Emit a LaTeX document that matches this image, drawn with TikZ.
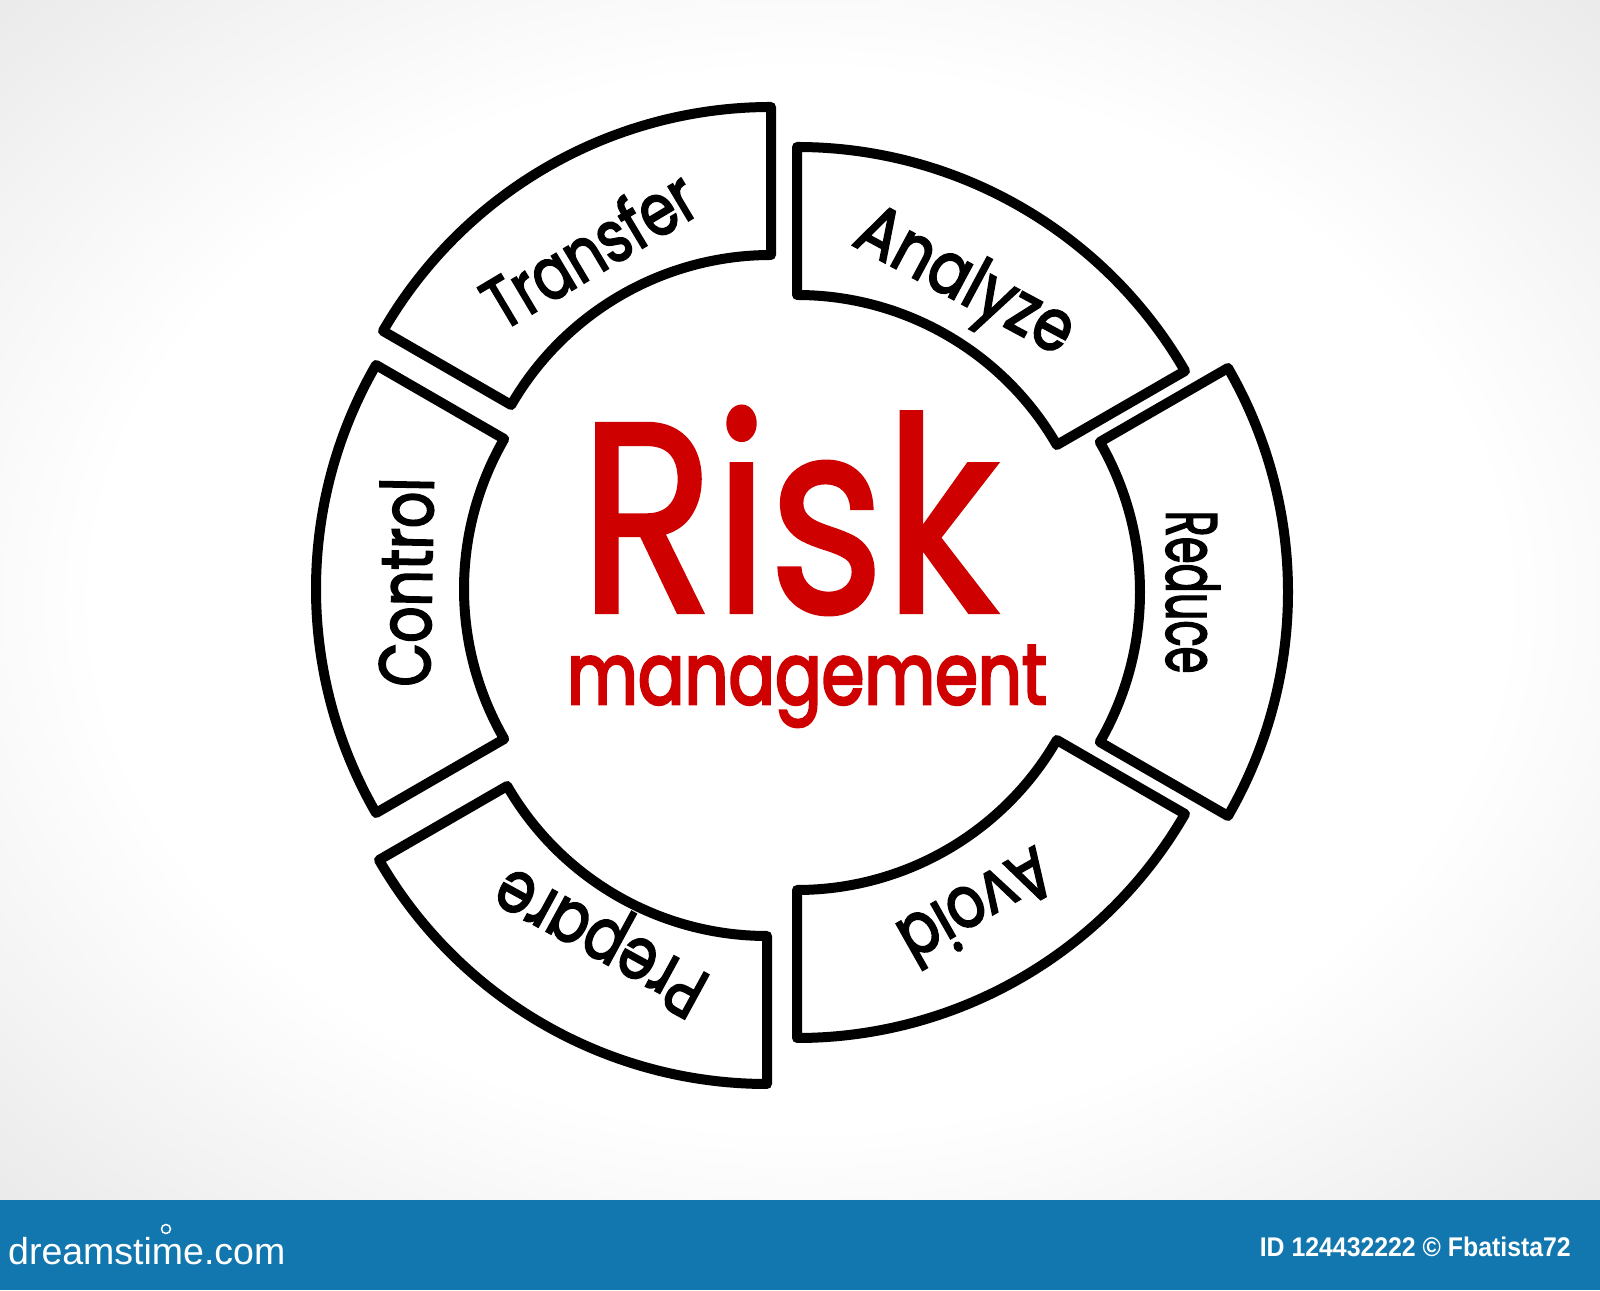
\documentclass[tikz,border=0pt]{standalone}
\usepackage{fontspec}
\newfontfamily\hand{Poppins}[FakeBold=2.8]
\newfontfamily\handmg{Poppins}[FakeBold=3.5]
\newfontfamily\handrisk{Poppins}[FakeBold=1.5]
\newfontfamily\barfont{Liberation Sans}
\usetikzlibrary{calc}
\definecolor{riskred}{RGB}{206,0,0}
\definecolor{barblue}{RGB}{17,119,174}
\pgfdeclareradialshading{vignette}{\pgfpoint{0bp}{0bp}}{color(0bp)=(white); color(22bp)=(white); color(50bp)=(black!17); color(71bp)=(black!28)}
\newcommand\ringseg[3]{%
  \draw[seg, shift={#1}] (#2:300) arc[start angle=#2, end angle=#3, radius=300]
    -- (#3:448) arc[start angle=#3, end angle=#2, radius=448] -- cycle;}
\begin{document}
\begin{tikzpicture}[x=1pt,y=1pt,
  seg/.style={draw=black, line width=10pt, line join=round},
  lbl/.style={font=\hand\fontsize{72}{72}\selectfont, text=black, text height=51pt, text depth=0pt, inner sep=0pt}]
\useasboundingbox (0,0) rectangle (1600,1290);
\shade[shading=vignette] (0,90) rectangle (1600,1290);
\fill[barblue] (0,0) rectangle (1600,90);
% ring segments
\ringseg{(771,735)}{90}{150}
\ringseg{(797,695)}{30}{90}
\ringseg{(840,698)}{-30}{30}
\ringseg{(797,700)}{-90}{-30}
\ringseg{(767,654)}{-150}{-90}
\ringseg{(764,701)}{150}{210}
% labels
\node[lbl, rotate=30.8, xscale=0.8] (transfer) at ($(771,735)+(120.8:355)$) {Transfer};
\node[lbl, rotate=-28.2, xscale=0.85] (analyze) at ($(797,695)+(61.8:360)$) {Analyze};
\node[lbl, rotate=-90, xscale=0.6] (reduce) at ($(840,698)+(0:352)$) {Reduce};
\node[lbl, rotate=-150.5, xscale=0.82] (avoid) at ($(797,700)+(-60.5:365)$) {Avoid};
\node[lbl, rotate=151.4, xscale=0.82] (prepare) at ($(767,654)+(-118.6:351)$) {Prepare};
\node[lbl, rotate=88.9, xscale=0.79] (control) at ($(764,701)+(178.9:358)$) {Control};
% centre
\node[font=\handrisk\fontsize{270}{270}\selectfont, text=riskred, anchor=base, inner sep=0pt, xscale=0.82] (risk) at (789,678) {Risk};
\node[font=\handmg\fontsize{85}{85}\selectfont, text=riskred, anchor=base, inner sep=0pt, xscale=0.81] (mgmt) at (807,586) {management};
% footer
\node[font=\barfont\fontsize{37.5}{37.5}\selectfont, text=white, anchor=west, inner sep=0pt] (brand) at (8,39) {dreamstime.com};
\draw[white, line width=1.5pt] (166,61) circle (4.5);
\node[font=\barfont\bfseries\fontsize{27}{27}\selectfont, text=white, anchor=east, inner sep=0pt, xscale=0.92] (imgid) at (1571,43) {ID 124432222 © Fbatista72};
\end{tikzpicture}
\end{document}
